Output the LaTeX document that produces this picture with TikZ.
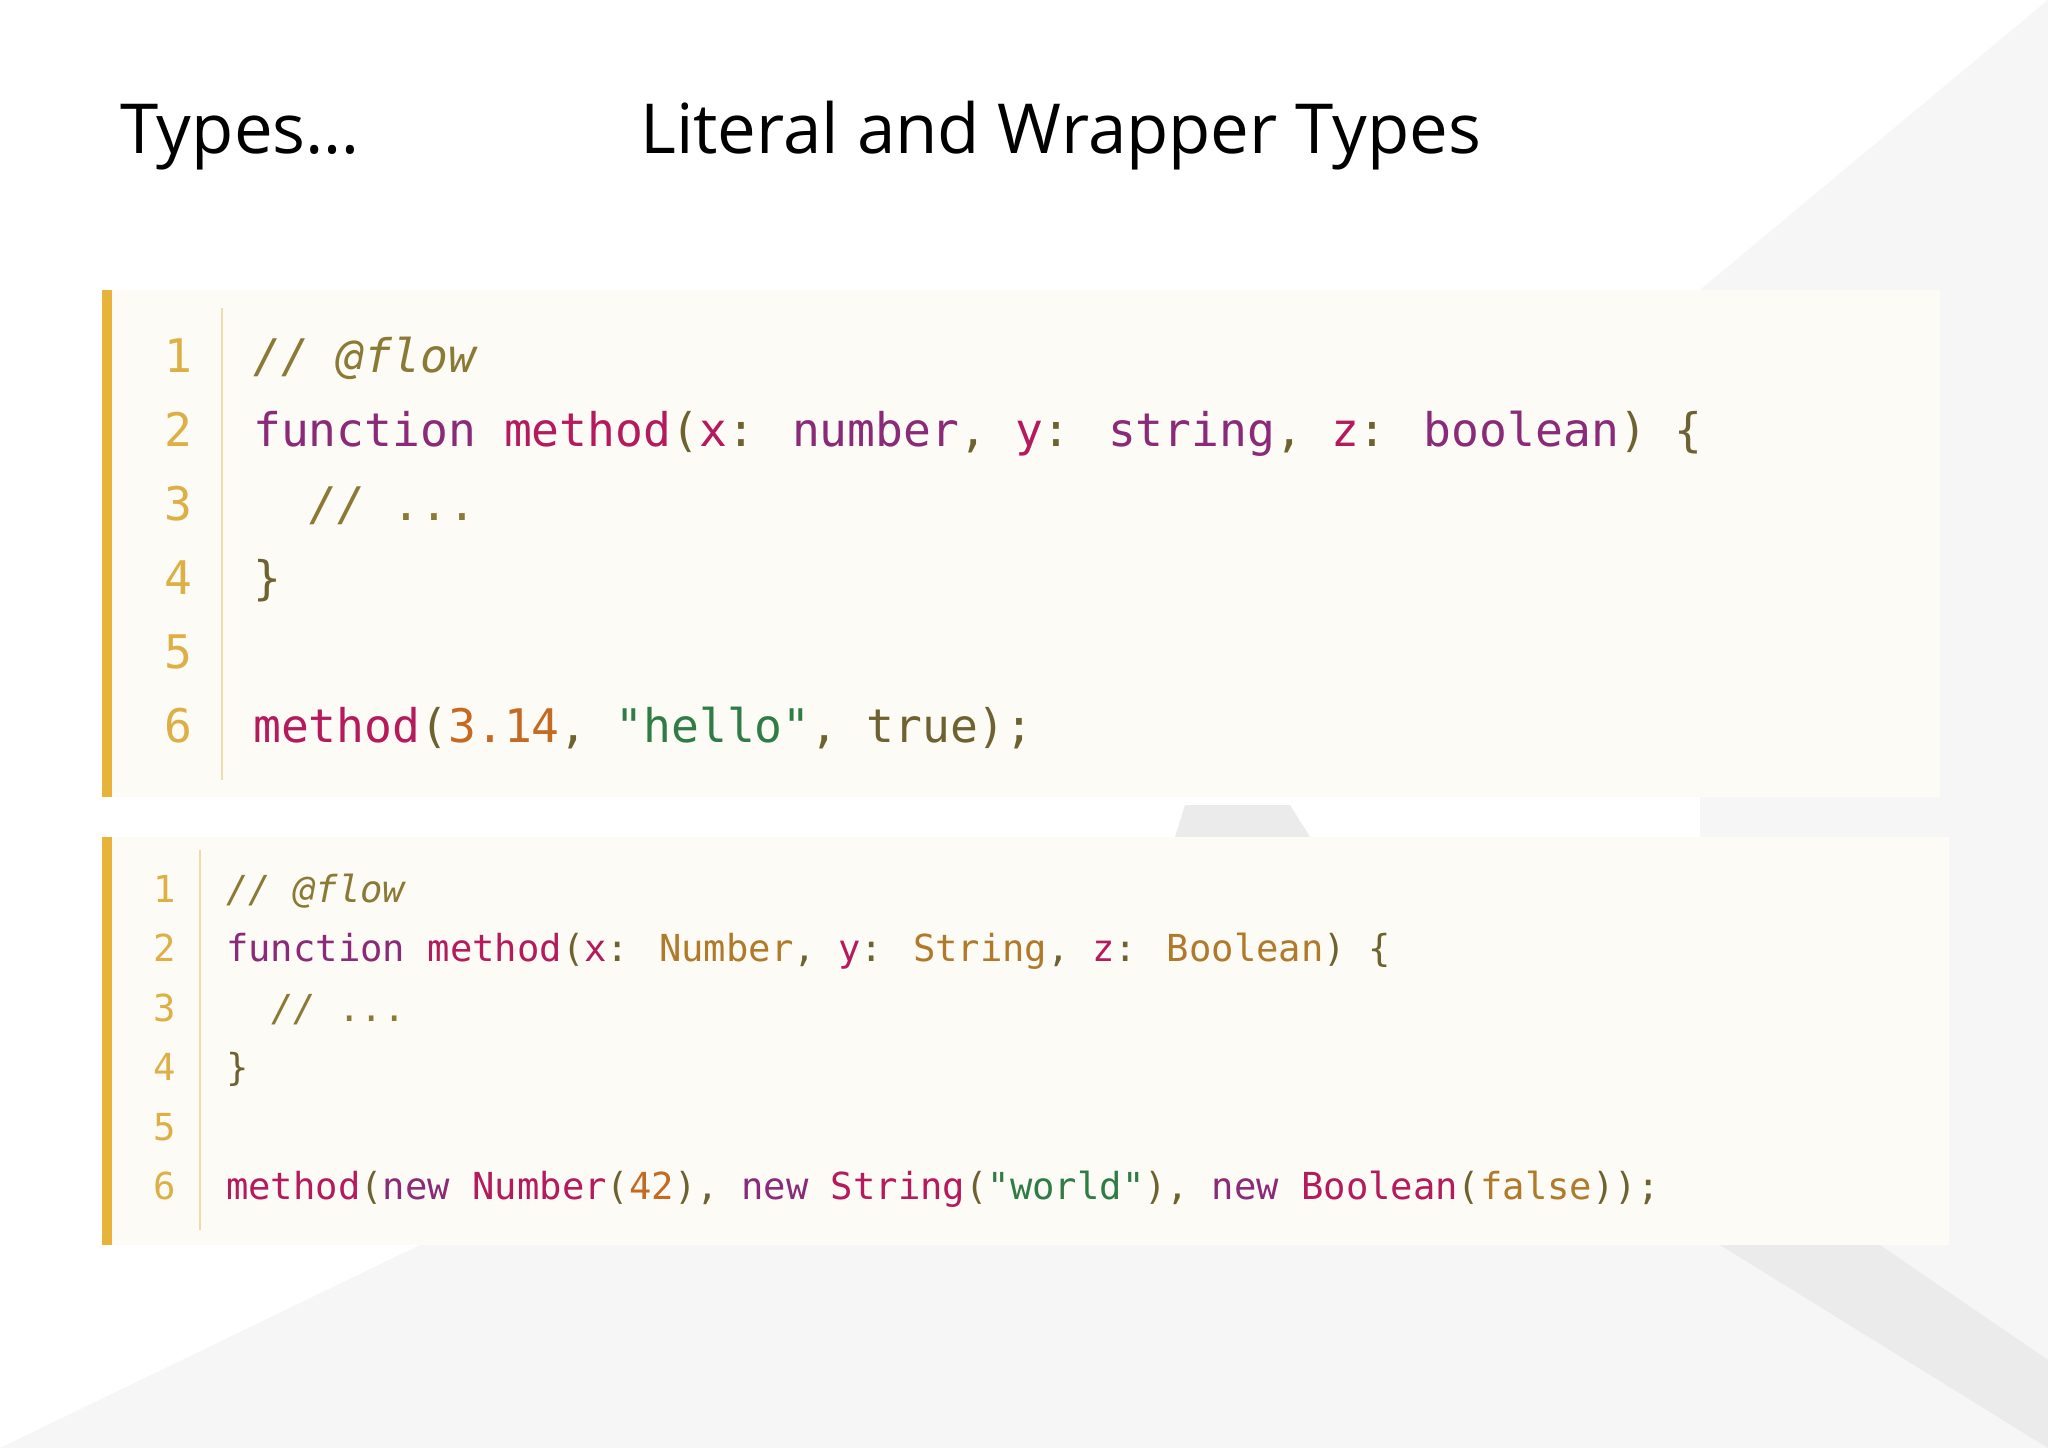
\documentclass[tikz,border=0pt]{standalone}
\usepackage{fontspec}
\setmainfont{Open Sans}
\newfontfamily\codefont{DejaVu Sans Mono}
\definecolor{bar}{HTML}{E8B33A}
\definecolor{lnum}{HTML}{DDAF45}
\definecolor{gut}{HTML}{EEDDAA}
\definecolor{boxbg}{HTML}{FCFBF6}
\definecolor{cfun}{HTML}{8A2A78}
\definecolor{cmeth}{HTML}{B51A5C}
\definecolor{cpun}{HTML}{6E6230}
\definecolor{cnum}{HTML}{C46A22}
\definecolor{cstr}{HTML}{2F7D45}
\definecolor{ctype}{HTML}{B07A2A}
\definecolor{ccom}{HTML}{8A7A35}
\definecolor{bgA}{HTML}{F6F6F6}
\definecolor{bgB}{HTML}{EBEBEB}
\newcommand{\cF}[1]{\textcolor{cfun}{#1}}
\newcommand{\cM}[1]{\textcolor{cmeth}{#1}}
\newcommand{\cP}[1]{\textcolor{cpun}{#1}}
\newcommand{\cN}[1]{\textcolor{cnum}{#1}}
\newcommand{\cS}[1]{\textcolor{cstr}{#1}}
\newcommand{\cT}[1]{\textcolor{ctype}{#1}}
\newcommand{\cC}[1]{\textcolor{ccom}{\itshape #1}}
\begin{document}
\begin{tikzpicture}[x=1pt,y=-1pt,
  title/.style={anchor=base west,inner sep=0,font=\fontsize{69}{80}\selectfont},
  codeA/.style={anchor=base west,inner sep=0,font=\codefont\fontsize{46.3}{50}\selectfont},
  numA/.style={anchor=base,inner sep=0,text=lnum,font=\codefont\fontsize{46.3}{50}\selectfont},
  codeB/.style={anchor=base west,inner sep=0,font=\codefont\fontsize{37.2}{40}\selectfont},
  numB/.style={anchor=base,inner sep=0,text=lnum,font=\codefont\fontsize{37.2}{40}\selectfont}]
\useasboundingbox[fill=white] (0,0) rectangle (2048,1448);
% background shapes
\fill[bgA] (1700,290) -- (2048,0) -- (2048,1448) -- (1700,1448) -- cycle;
\fill[bgA] (0,1448) -- (420,1245) -- (1720,1245) -- (2048,1448) -- cycle;
\fill[bgB] (1720,1245) -- (1880,1245) -- (2048,1360) -- (2048,1448) -- cycle;
\fill[bgB] (1175,837) -- (1185,805) -- (1290,805) -- (1310,837) -- cycle;
% titles
\node[title] (t1) at (120,153) {Types…};
\node[title] (t2) at (640,153) {Literal and Wrapper Types};
% box 1
\fill[boxbg] (102,290) rectangle (1940,797);
\fill[bar] (102,290) rectangle (112,797);
\draw[gut,line width=2] (222,308) -- (222,780);
\foreach \i/\y in {1/372,2/446,3/520,4/594,5/668,6/742}
  \node[numA] (a\i) at (178,\y) {\i};
\node[codeA] (l1) at (253,372) {\cC{//\ @flow}};
\node[codeA] (l2) at (253,446) {\cF{function} \cM{method}\cP{(}\cM{x}\cP{:} \cF{number}\cP{,} \cM{y}\cP{:} \cF{string}\cP{,} \cM{z}\cP{:} \cF{boolean}\cP{)} \cP{\{}};
\node[codeA] (l3) at (309,520) {\cC{//\ \upshape...}};
\node[codeA] (l4) at (253,594) {\cP{\}}};
\node[codeA] (l6) at (253,742) {\cM{method}\cP{(}\cN{3.14}\cP{,} \cS{"hello"}\cP{,} \cP{true}\cP{);}};
% box 2
\fill[boxbg] (102,837) rectangle (1949,1245);
\fill[bar] (102,837) rectangle (112,1245);
\draw[gut,line width=2] (200,850) -- (200,1230);
\foreach \i/\y in {1/902,2/961,3/1021,4/1080,5/1140,6/1199}
  \node[numB] (b\i) at (165,\y) {\i};
\node[codeB] (m1) at (226,902) {\cC{//\ @flow}};
\node[codeB] (m2) at (226,961) {\cF{function} \cM{method}\cP{(}\cM{x}\cP{:} \cT{Number}\cP{,} \cM{y}\cP{:} \cT{String}\cP{,} \cM{z}\cP{:} \cT{Boolean}\cP{)} \cP{\{}};
\node[codeB] (m3) at (271,1021) {\cC{//\ \upshape...}};
\node[codeB] (m4) at (226,1080) {\cP{\}}};
\node[codeB] (m6) at (226,1199) {\cM{method}\cP{(}\cF{new} \cM{Number}\cP{(}\cN{42}\cP{),} \cF{new} \cM{String}\cP{(}\cS{"world"}\cP{),} \cF{new} \cM{Boolean}\cP{(}\cT{false}\cP{));}};
\end{tikzpicture}
\end{document}
